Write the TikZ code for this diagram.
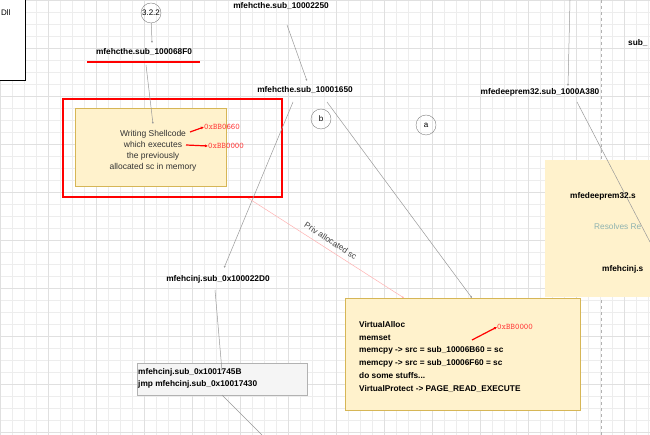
\documentclass[tikz,border=0pt]{standalone}
\usepackage{fontspec}
\setmainfont{Liberation Sans}
\usetikzlibrary{arrows.meta}
\definecolor{yel}{HTML}{FFF2CC}
\definecolor{yeld}{HTML}{D6B656}
\definecolor{teal2}{HTML}{8FB3B0}
\begin{document}
\begin{tikzpicture}[x=1pt,y=-1pt,
  lbl/.style={font=\fontsize{8.3}{10}\selectfont\bfseries,inner sep=1pt},
  conn/.style={draw=gray!80,line width=0.5pt,-{Latex[length=2pt,width=2pt]}},
  connp/.style={draw=gray!80,line width=0.5pt},
  circ/.style={circle,draw=gray,minimum size=20pt,inner sep=0pt,font=\fontsize{8}{9}\selectfont},
  redarr/.style={draw=red,line width=1.2pt,-{Latex[length=3pt,width=3pt]}},
  hex/.style={text=red!80,font=\fontsize{8.5}{9}\selectfont\ttfamily,inner sep=0pt,anchor=west},
  ybox/.style={fill=yel,draw=yeld,line width=0.8pt}]
\useasboundingbox (0,0) rectangle (650,435);
\begin{scope}
\clip (0,0) rectangle (650,435);
\fill[white] (0,0) rectangle (650,435);
\foreach \i in {0,...,54} {\draw[gray!14,line width=0.3pt] (\i*12,0) -- (\i*12,435);}
\foreach \i in {0,...,36} {\draw[gray!14,line width=0.3pt] (0,\i*12) -- (650,\i*12);}
\foreach \i in {0,...,13} {\draw[gray!24,line width=0.3pt] (\i*48,0) -- (\i*48,435);}
\foreach \i in {0,...,9} {\draw[gray!24,line width=0.3pt] (0,\i*48) -- (650,\i*48);}
% left box
\draw[black,line width=0.8pt,fill=white] (-5,-5) rectangle (25,80);
\node[font=\fontsize{8}{9}\selectfont,anchor=west,inner sep=0pt] (dll) at (1,13) {Dll};
% dashed line
\draw[gray!60,dashed,line width=0.4pt] (601,0) -- (601,435);
% right yellow box
\node[ybox,draw=yel,minimum width=115pt,minimum height=136pt,anchor=north west] (rbox) at (545,160) {};
\node[lbl,anchor=west] (rb1) at (569,196) {mfedeeprem32.s};
\node[font=\fontsize{8.3}{9}\selectfont,text=teal2,anchor=west,inner sep=0pt] (rb2) at (594,227) {Resolves Re};
\node[lbl,anchor=west] (rb3) at (601,269) {mfehcinj.s};
% top labels
\node[circ] (c322) at (151,13) {3.2.2};
\node[lbl] (n68) at (144,52) {mfehcthe.sub\_100068F0};
\draw[red,line width=1.6pt] (87,62) -- (200,62);
\node[lbl] (n2250) at (281,6) {mfehcthe.sub\_10002250};
\node[lbl] (n1650) at (305,90) {mfehcthe.sub\_10001650};
\node[lbl] (nA380) at (540,92) {mfedeeprem32.sub\_1000A380};
\node[lbl,anchor=west] (nsub) at (627,43) {sub\_};
\coordinate (top570) at (570,0);
\draw[conn] (top570) -- (568,86) coordinate (a380t);
% shellcode box
\node[ybox,minimum width=151pt,minimum height=78pt,anchor=north west] (sbox) at (75,108) {};
\node[font=\fontsize{8.5}{11}\selectfont,align=center,text=black!80] (stext) at (153,151) {Writing Shellcode\\which executes\\the previously\\allocated sc in memory};
\draw[red,line width=1.3pt] (63,99) rectangle (282,197);
\node[hex] (h1) at (204,127) {0xBB0660};
\node[hex] (h2) at (208,146) {0xBB0000};
\draw[redarr] (190,132) -- (h1.west);
\draw[redarr] (186,145) -- (h2.west);
\node[circ] (cb) at (321,119) {b};
\node[circ] (ca) at (426,125) {a};
% lower nodes
\node[lbl] (n22d0) at (218,279) {mfehcinj.sub\_0x100022D0};
\node[draw=gray!60,fill=gray!8,minimum width=170pt,minimum height=32pt,anchor=north west] (gbox) at (137,363) {};
\node[lbl,align=left,anchor=west,inner sep=0pt,font=\fontsize{8.3}{12}\selectfont\bfseries] (gtext) at (138,378) {mfehcinj.sub\_0x1001745B\\jmp mfehcinj.sub\_0x10017430};
\node[ybox,minimum width=235pt,minimum height=112pt,anchor=north west] (vbox) at (345,298) {};
\node[align=left,anchor=north west,inner sep=0pt,font=\fontsize{8.3}{12.8}\selectfont\bfseries] (vtext) at (359,321) {VirtualAlloc\\memset\\memcpy -> src = sub\_10006B60 = sc\\memcpy -> src = sub\_10006F60 = sc\\do some stuffs...\\VirtualProtect -> PAGE\_READ\_EXECUTE};
\node[hex] (h3) at (497,327) {0xBB0000};
\draw[redarr] (472,340) -- (h3.west);
% connectors
\draw[conn] (c322) -- (152,43);
\draw[conn] (146,65) -- (153,124);
\draw[conn] (287,25) -- (307,81);
\draw[conn] (293,102) -- (224,268);
\draw[conn] (327,102) -- (472,298);
\draw[draw=red!30,line width=0.5pt,-{Latex[length=2pt,width=2pt]}] (248,198) -- node[pos=0.5,above=2pt,sloped,font=\fontsize{8.3}{9}\selectfont,text=black!75] {Priv allocated sc} (404,298);
\draw[conn] (215,290) -- (222,371);
\coordinate (botend) at (262,435);
\draw[connp] (222,395) -- (botend);
\draw[connp] (577,102) -- (650,242);
\end{scope}
\end{tikzpicture}
\end{document}
